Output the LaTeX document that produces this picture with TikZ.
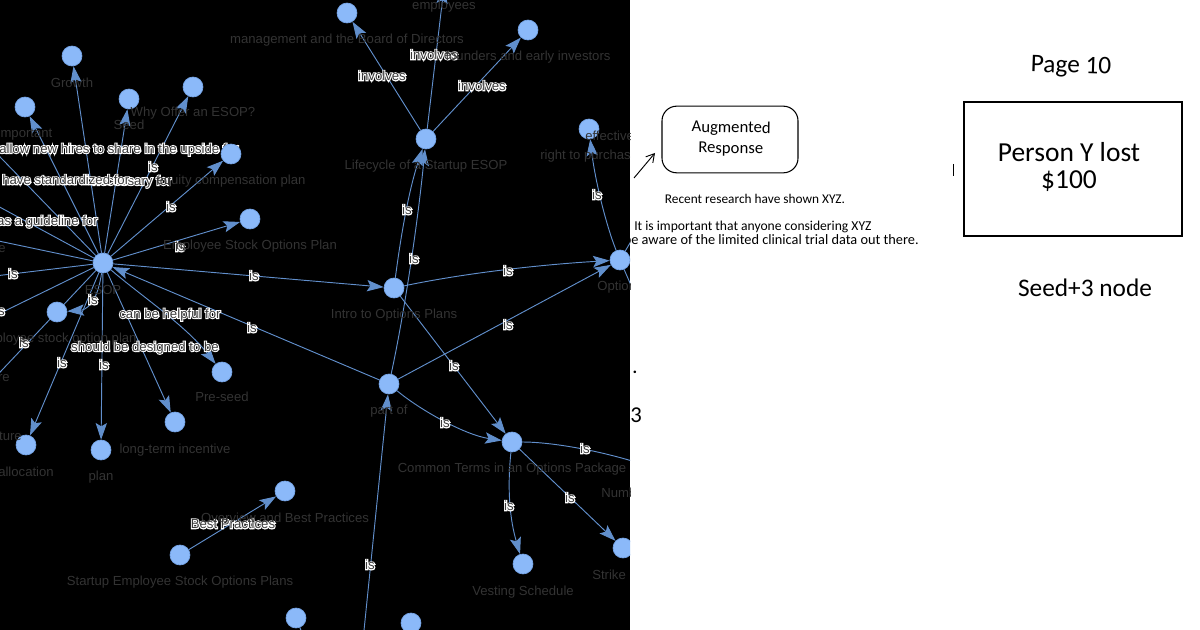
\documentclass[tikz,border=0pt]{standalone}
\usepackage{fontspec}
\usetikzlibrary{arrows.meta}
\pgfdeclarelayer{under}
\pgfsetlayers{under,main}
\setmainfont{Liberation Sans}
\newfontfamily\handfont{Carlito}
\definecolor{nodeblue}{HTML}{8BB9F9}
\definecolor{nodeedge}{HTML}{74A3E6}
\definecolor{edgeblue}{HTML}{618FCC}
\definecolor{dimtext}{HTML}{333333}
\definecolor{coretext}{HTML}{3A3A3A}
\newcommand\halotext[1]{\rlap{\color{white}\special{pdf:code 2 Tr 1.5 w 1 1 1 RG}#1\special{pdf:code 0 Tr 0.5 w}}\textcolor{coretext}{#1}}
\tikzset{
  gnode/.style={circle,fill=nodeblue,draw=nodeedge,line width=0.5pt,minimum size=15pt,inner sep=0pt},
  arrowedge/.style={draw=edgeblue,line width=0.7pt,-{Stealth[length=12.5pt,width=8.5pt,inset=2.5pt]}},
  plainedge/.style={draw=edgeblue,line width=0.7pt},
  edgetext/.style={font=\fontsize{9.9}{12}\selectfont,inner sep=0pt,yshift=-0.5pt},
  nodetext/.style={font=\fontsize{9.85}{12}\selectfont,text=dimtext,inner sep=0pt,yshift=-1.5pt},
  hand/.style={text=black,inner sep=0pt,align=center},
}
\begin{document}
\begin{tikzpicture}[x=0.75pt,y=-0.75pt]
\useasboundingbox (0,0) rectangle (1200,630);
\begin{scope}
\clip (0,0) rectangle (630,630);
% node discs
\node[gnode] (esop) at (103,263) {};
\node[gnode] (growth) at (72,56) {};
\node[gnode] (seed) at (129,99) {};
\node[gnode] (why) at (193,87) {};
\node[gnode] (important) at (25,107) {};
\node[gnode] (equity) at (231,154) {};
\node[gnode] (esopplan) at (250,219) {};
\node[gnode] (intro) at (394,288) {};
\node[gnode] (partof) at (389,384) {};
\node[gnode] (life) at (426,139) {};
\node[gnode] (board) at (347,13) {};
\node[gnode] (founders) at (528,30) {};
\node[gnode] (purchase) at (589,129) {};
\node[gnode] (options) at (620,260) {};
\node[gnode] (common) at (512,442) {};
\node[gnode] (vesting) at (523,564) {};
\node[gnode] (strike) at (623,548) {};
\node[gnode] (preseed) at (222,372) {};
\node[gnode] (longterm) at (175,422) {};
\node[gnode] (plan) at (101,450) {};
\node[gnode] (alloc) at (26,445) {};
\node[gnode] (stockopt) at (57,312) {};
\node[gnode] (startup) at (180,555) {};
\node[gnode] (overview) at (285,491) {};
\node[gnode] (bottoma) at (296,618) {};
\node[gnode] (bottomb) at (411,623) {};
% node labels
\node[nodetext] at (72,81) {Growth};
\node[nodetext] at (129,123) {Seed};
\node[nodetext] at (193,111) {Why Offer an ESOP?};
\node[nodetext] at (25,132) {important};
\node[nodetext] at (231,179) {equity compensation plan};
\node[nodetext] at (250,244) {Employee Stock Options Plan};
\node[nodetext] at (103,288) {ESOP};
\node[nodetext] at (394,313) {Intro to Options Plans};
\node[nodetext] at (389,409) {part of};
\node[nodetext] at (426,164) {Lifecycle of a Startup ESOP};
\node[nodetext] at (347,38) {management and the Board of Directors};
\node[nodetext] at (444,4) {employees};
\node[nodetext] at (528,55) {founders and early investors};
\node[nodetext,anchor=west] at (585,134) {effective};
\node[nodetext,anchor=west] at (540,154) {right to purchase};
\node[nodetext] at (620,285) {Options};
\node[nodetext] at (512,467) {Common Terms in an Options Package};
\node[nodetext,anchor=west] at (601,491) {Number};
\node[nodetext,anchor=west] at (592,573) {Strike};
\node[nodetext] at (523,590) {Vesting Schedule};
\node[nodetext] at (180,580) {Startup Employee Stock Options Plans};
\node[nodetext] at (285,516) {Overview and Best Practices};
\node[nodetext] at (222,395) {Pre-seed};
\node[nodetext] at (175,448) {long-term incentive};
\node[nodetext] at (101,475) {plan};
\node[nodetext] at (26,470) {allocation};
\node[nodetext,anchor=east] at (22,434) {structure};
\node[nodetext,anchor=east] at (10,375) {structure};
\node[nodetext,anchor=east] at (6,247) {Stock Option Plan Template};
\node[nodetext] at (57,337) {employee stock option plan};
\end{scope}
\coordinate (offa) at (-30,126);
\coordinate (offb) at (-30,191);
\coordinate (offc) at (-30,235);
\coordinate (offd) at (-30,279);
\coordinate (offe) at (-30,328);
\coordinate (offf) at (-30,404);
\coordinate (offemp) at (444,-13);
\coordinate (offbottom) at (361,660);
\coordinate (offnum) at (660,470);
\coordinate (offopta) at (650,209);
\coordinate (offoptb) at (650,329);
\coordinate (offbot) at (315,665);
\begin{pgfonlayer}{under}
\fill[white] (0,0) rectangle (1200,630);
\begin{scope}
\clip (0,0) rectangle (630,630);
\fill[black] (0,0) rectangle (630,630);
% edges
\foreach \t in {growth,seed,why,important,equity,esopplan,intro,longterm,plan,alloc,offa,offb,offc,offd,offe,offf}
  \draw[arrowedge] (esop) -- (\t);
\draw[arrowedge] (esop) .. controls (97,305) and (85,310) .. (stockopt);
\draw[arrowedge] (esop) .. controls (140,295) and (185,325) .. (preseed);
\draw[arrowedge] (partof) -- (esop);
\draw[arrowedge] (intro) .. controls (399,250) and (407,195) .. (life);
\draw[arrowedge] (partof) .. controls (405,310) and (418,220) .. (life);
\draw[arrowedge] (offbottom) -- (partof);
\draw[arrowedge] (life) -- (board);
\draw[arrowedge] (life) -- (offemp);
\draw[arrowedge] (life) -- (founders);
\draw[arrowedge] (intro) .. controls (470,272) and (550,264) .. (options);
\draw[arrowedge] (partof) -- (options);
\draw[arrowedge] (intro) -- (common);
\draw[arrowedge] (partof) .. controls (420,410) and (465,435) .. (common);
\draw[arrowedge] (common) .. controls (507,490) and (510,520) .. (vesting);
\draw[arrowedge] (common) -- (strike);
\draw[arrowedge] (common) .. controls (550,442) and (600,450) .. (offnum);
\draw[arrowedge] (options) .. controls (606,225) and (595,180) .. (purchase);
\draw[plainedge] (options) -- (offopta);
\draw[plainedge] (options) -- (offoptb);
\draw[arrowedge] (startup) -- (overview);
\draw[plainedge] (bottoma) -- (offbot);
% edge labels
\node[edgetext,anchor=west] (la) at (-1,149) {\halotext{allow new hires to share in the upside for}};
\node[edgetext] (lb) at (132,181) {\halotext{necessary for}};
\node[edgetext,anchor=west] (lc) at (2,179) {\halotext{have standardized for}};
\node[edgetext,anchor=east] (ld) at (98,221) {\halotext{as a guideline for}};
\node[edgetext] (le) at (170,314) {\halotext{can be helpful for}};
\node[edgetext] (lf) at (145,347) {\halotext{should be designed to be}};
\node[edgetext] (lg) at (233,523) {\halotext{Best Practices}};
\node[edgetext] (lh) at (382,75) {\halotext{involves}};
\node[edgetext] (li) at (434,54) {\halotext{involves}};
\node[edgetext] (lj) at (482,85) {\halotext{involves}};
\foreach \p/\q in {153/166,171/206,180/246,13/273,254/275,0/310,93/299,24/342,62/362,104/364,252/327,407/209,414/258,508/270,508/324,454/365,445/422,509/505,570/497,585/448,597/194,370/564}
  \node[edgetext] at (\p,\q) {\halotext{is}};
\end{scope}
\end{pgfonlayer}
% right panel
\begin{scope}
\clip (630,0) rectangle (1200,630);
\node[draw=black,line width=0.8pt,rounded corners=11pt,minimum width=102pt,minimum height=50pt,inner sep=0pt] (aug) at (730,139.5) {};
\node[hand,font=\handfont\fontsize{12.5}{15}\selectfont,rotate=-1] (augt) at (731,138.5) {Augmented\\[0.5pt]Response};
\coordinate (arrowfree) at (634,178);
\coordinate (arrowhead) at (655,153);
\draw[line width=0.7pt,-{Straight Barb[length=6pt,width=7pt]}] (arrowfree) -- (arrowhead);
\node[hand,font=\handfont\fontsize{10}{12}\selectfont] (recent) at (755,199) {Recent research have shown XYZ.};
\node[hand,font=\handfont\fontsize{10.2}{12}\selectfont,anchor=west] (imp) at (634,227) {It is important that anyone considering XYZ};
\node[hand,font=\handfont\fontsize{10.75}{12}\selectfont,anchor=east] (aware) at (919,240) {be aware of the limited clinical trial data out there.};
\node[hand,font=\handfont\bfseries\fontsize{13}{15}\selectfont] (dot) at (635,372) {.};
\node[hand,font=\handfont\fontsize{17}{20}\selectfont,anchor=east] (three) at (642,415) {3};
\node[hand,font=\handfont\fontsize{19}{22}\selectfont,rotate=-2] (page) at (1071,67) {Page 10};
\node[draw=black,line width=0.8pt,minimum width=163.5pt,minimum height=100.5pt,inner sep=0pt] (box) at (1073,169) {};
\node[hand,font=\handfont\fontsize{20.6}{20}\selectfont] (person) at (1069,167) {Person Y lost\\\$100};
\coordinate (ticktop) at (953,164);
\coordinate (tickbot) at (953,176);
\draw[line width=0.6pt] (ticktop) -- (tickbot);
\node[hand,font=\handfont\fontsize{19}{22}\selectfont] (seednode) at (1085,288) {Seed+3 node};
\end{scope}
\end{tikzpicture}
\end{document}
